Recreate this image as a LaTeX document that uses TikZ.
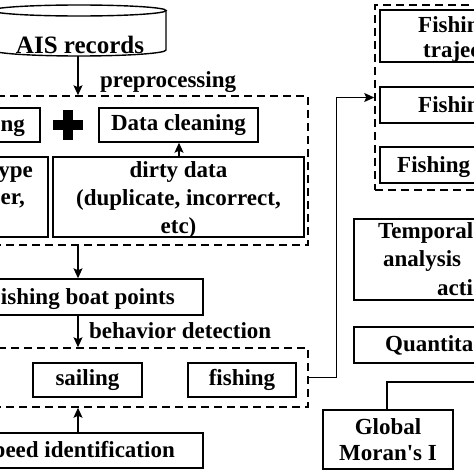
\documentclass[tikz,border=0pt]{standalone}
\usepackage{fontspec}
\setmainfont{Liberation Serif}[Ligatures=TeXOff]
\usetikzlibrary{arrows.meta,calc}
\begin{document}
\begin{tikzpicture}[x=1pt,y=-1pt,
  font=\fontsize{23}{28}\selectfont\bfseries,
  box/.style={draw, line width=1.4pt, inner sep=0pt, align=center},
  dbox/.style={draw, line width=1.5pt, dash pattern=on 8pt off 5pt, inner sep=0pt},
  txt/.style={inner sep=0pt},
  conn/.style={line width=1.4pt},
  arr/.style={line width=1.4pt, -{Stealth[length=10pt,width=9pt,inset=2pt]}}]
\useasboundingbox (0,0) rectangle (474,474);
\clip (0,0) rectangle (474,474);
% AIS records cylinder
\draw[line width=1.4pt] (79,10.5) ellipse [x radius=87, y radius=5.5];
\draw[line width=1.4pt] (-8,10.5) -- (-8,50) .. controls (-8,53.3) and (31,56) .. (79,56)
  .. controls (127,56) and (166,53.3) .. (166,50) -- (166,10.5);
\node[txt, anchor=base, font=\fontsize{25}{30}\selectfont\bfseries] (ais) at (80,53) {AIS records};
\coordinate (aisb) at (78,56);
% preprocessing dashed box
\node[dbox, minimum width=328pt, minimum height=149pt] (db1) at (144,170.5) {};
\draw[arr] (aisb) -- (aisb |- db1.north);
\node[txt, anchor=base west] (pre) at (100,87) {preprocessing};
% inner boxes of preprocessing
\node[box, minimum width=60pt, minimum height=34pt] (bl1) at (10,125) {};
\node[txt, anchor=base east] (tng) at (25,131) {ng};
\fill (63,110) rectangle (73,140);
\fill (53,120) rectangle (83,130);
\node[box, minimum width=159pt, minimum height=34pt] (clean) at (178.5,125) {Data cleaning};
\node[box, minimum width=70pt, minimum height=80pt] (bl2) at (13,197) {};
\node[txt, anchor=base east] (type) at (33,177) {ype};
\node[txt, anchor=base east] (ter) at (25,204) {er,};
\node[box, minimum width=251pt, minimum height=80pt] (dirty) at (178.5,197) {};
\node[txt, align=center, anchor=north] (tdirty) at (178.5,161.5)
  {dirty data\\(duplicate, incorrect,\\etc)};
\draw[arr] (dirty.north -| 179,0) -- (clean.south -| 179,0);
% fishing boat points
\node[box, minimum width=223pt, minimum height=36pt] (fbp) at (91.5,297) {};
\node[txt, anchor=base east] (tfbp) at (175,304) {ishing boat points};
\draw[arr] (db1.south -| 78,0) -- (fbp.north -| 78,0);
% behavior detection dashed box
\node[dbox, minimum width=328pt, minimum height=59pt] (db2) at (144,377.5) {};
\draw[arr] (fbp.south -| 78,0) -- (db2.north -| 78,0);
\node[txt, anchor=base west] (beh) at (89,338) {behavior detection};
\node[box, minimum width=109pt, minimum height=34pt] (sail) at (87.5,380) {sailing};
\node[box, minimum width=108pt, minimum height=34pt] (fish) at (242,380) {fishing};
% speed identification
\node[box, minimum width=223pt, minimum height=35pt] (speed) at (91.5,450.5) {};
\node[txt, anchor=base east] (tspeed) at (175,457) {peed identification};
\draw[arr] (speed.north -| 78,0) -- (db2.south -| 78,0);
% right dashed box
\node[dbox, minimum width=130pt, minimum height=185pt] (db3) at (440,97.5) {};
\draw[arr] (db2.east) -- ++(28,0) |- (db3.west);
\node[box, minimum width=120pt, minimum height=52pt] (ra) at (440,36) {};
\node[txt, anchor=base west] (tra1) at (418,32) {Fishin};
\node[txt, anchor=base west] (tra2) at (423,57) {trajec};
\node[box, minimum width=120pt, minimum height=36pt] (rb) at (440,105) {};
\node[txt, anchor=base west] (trb) at (418,112) {Fishin};
\node[box, minimum width=120pt, minimum height=36pt] (rc) at (440,165) {};
\node[txt, anchor=base west] (trc) at (397,172) {Fishing};
% temporal box
\node[box, minimum width=140pt, minimum height=81pt] (temp) at (424,259.5) {};
\node[txt, anchor=base west] (tt1) at (378,238) {Temporal};
\node[txt, anchor=base west] (tt2) at (383,266) {analysis};
\node[txt, anchor=base west] (tt3) at (437,295) {acti};
% quantitative box
\node[box, minimum width=140pt, minimum height=36pt] (quant) at (424,345) {};
\node[txt, anchor=base west] (tq) at (385,351) {Quantita};
% global moran's I
\node[box, minimum width=130pt, minimum height=59pt] (moran) at (388,439.5) {};
\node[txt, anchor=base] (tm1) at (388,434) {Global};
\node[txt, anchor=base] (tm2) at (388,460) {Moran's I};
\coordinate (mr) at (490,382);
\draw[conn] (moran.north -| 387,0) |- (mr);
\end{tikzpicture}
\end{document}
